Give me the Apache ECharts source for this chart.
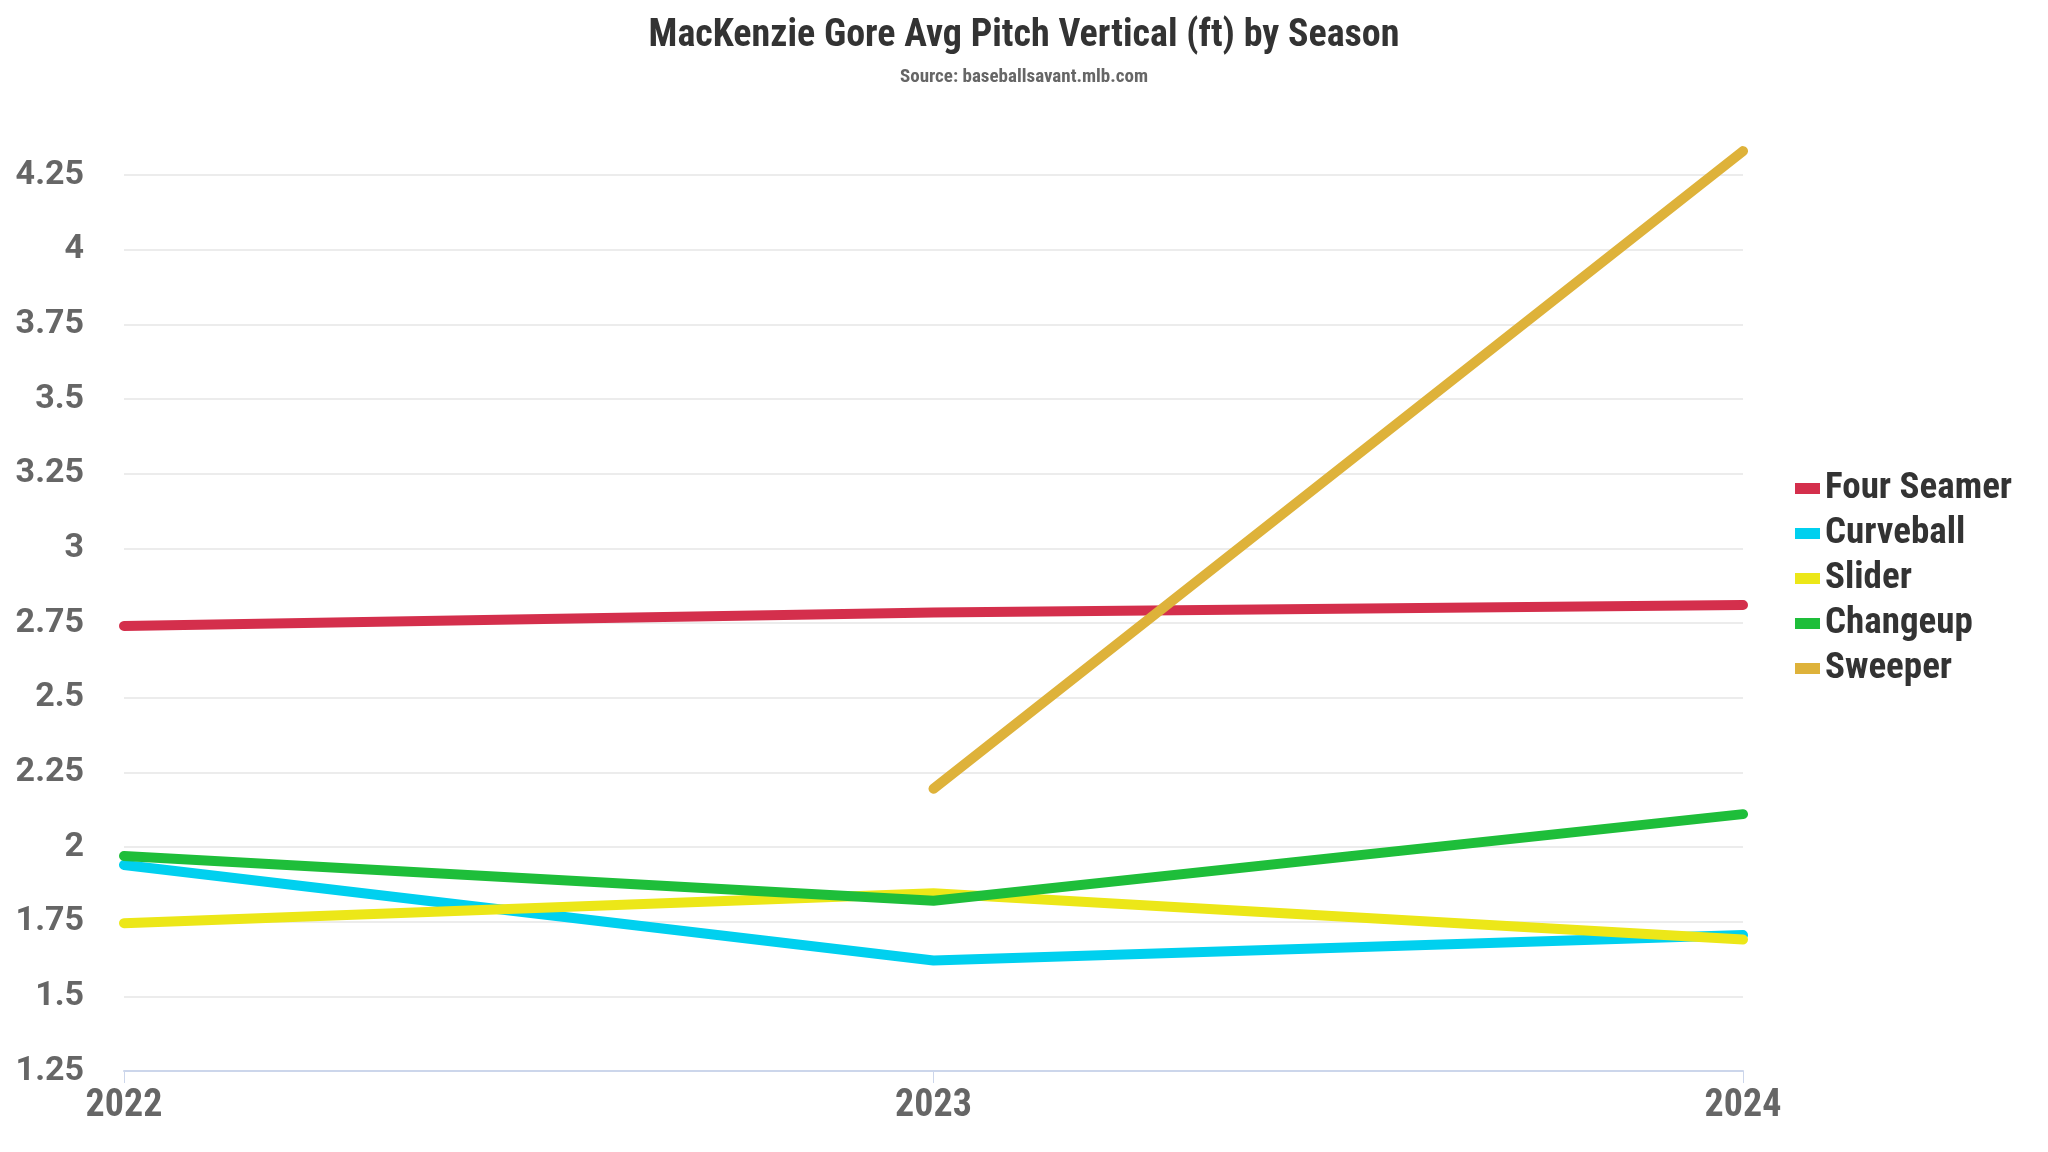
<!DOCTYPE html>
<html>
<head>
<meta charset="utf-8">
<title>MacKenzie Gore Avg Pitch Vertical</title>
<script src="https://cdn.jsdelivr.net/npm/echarts@6/dist/echarts.min.js"></script>
<style>
  html, body { margin: 0; padding: 0; background: #fff; }
  #mainChart { width: 2048px; height: 1152px; }
</style>
</head>
<body>
<div id="mainChart"></div>
<script type="text/javascript">
// data
var seasons = ['2022', '2023', '2024'];
var fourSeamer = [2.74, 2.785, 2.81];
var curveball = [1.94, 1.62, 1.705];
var slider = [1.745, 1.845, 1.69];
var changeup = [1.97, 1.82, 2.11];
var sweeper = [null, 2.195, 4.33];

var pitchNames = ['Four Seamer', 'Curveball', 'Slider', 'Changeup', 'Sweeper'];
var pitchColors = ['#d42f4c', '#00d0ef', '#ece718', '#1ebe3a', '#deb23a'];
var pitchValues = [fourSeamer, curveball, slider, changeup, sweeper];

var narrow = '"Roboto Condensed", "Liberation Sans Narrow", "DejaVu Sans Condensed", sans-serif';

var seriesList = [];
for (var i = 0; i < pitchNames.length; i++) {
    seriesList.push({
        name: pitchNames[i],
        type: 'line',
        data: pitchValues[i],
        symbol: 'none',
        clip: false,
        connectNulls: false,
        lineStyle: { width: 10, cap: 'round', join: 'round', color: pitchColors[i] },
        itemStyle: { color: pitchColors[i] }
    });
}

var myChart = echarts.init(document.getElementById('mainChart'));
var options = {
    color: pitchColors,
    animation: false,
    title: {
        text: 'MacKenzie Gore Avg Pitch Vertical (ft) by Season',
        subtext: 'Source: baseballsavant.mlb.com',
        left: 'center',
        top: 12,
        itemGap: 13,
        textStyle: { fontFamily: narrow, fontWeight: 'bold', fontSize: 38, color: '#333333' },
        subtextStyle: { fontFamily: narrow, fontWeight: 'bold', fontSize: 19, color: '#666666' }
    },
    legend: {
        orient: 'vertical',
        left: 1790,
        top: 465,
        icon: 'rect',
        itemWidth: 25,
        itemHeight: 11,
        itemGap: 8,
        textStyle: { fontFamily: narrow, fontWeight: 'bold', fontSize: 37, color: '#333333', lineHeight: 37 },
        data: pitchNames
    },
    grid: {
        left: 124,
        right: 305,
        top: 175,
        bottom: 81,
        containLabel: false
    },
    xAxis: {
        type: 'category',
        data: seasons,
        boundaryGap: false,
        axisLine: { lineStyle: { color: '#ccd6eb', width: 2 } },
        axisTick: { show: true, length: 12, lineStyle: { color: '#ccd6eb' } },
        axisLabel: { fontFamily: narrow, fontWeight: 'bold', fontSize: 38, color: '#666666', margin: 16 },
        splitLine: { show: false }
    },
    yAxis: {
        type: 'value',
        min: 1.25,
        max: 4.25,
        interval: 0.25,
        axisLine: { show: false },
        axisTick: { show: false },
        axisLabel: { fontFamily: 'Roboto, sans-serif', fontWeight: 'bold', fontSize: 34, color: '#666666', margin: 40 },
        splitLine: { lineStyle: { color: '#e6e6e6', width: 1.5 } }
    },
    series: seriesList
};
myChart.setOption(options);
</script>
</body>
</html>
